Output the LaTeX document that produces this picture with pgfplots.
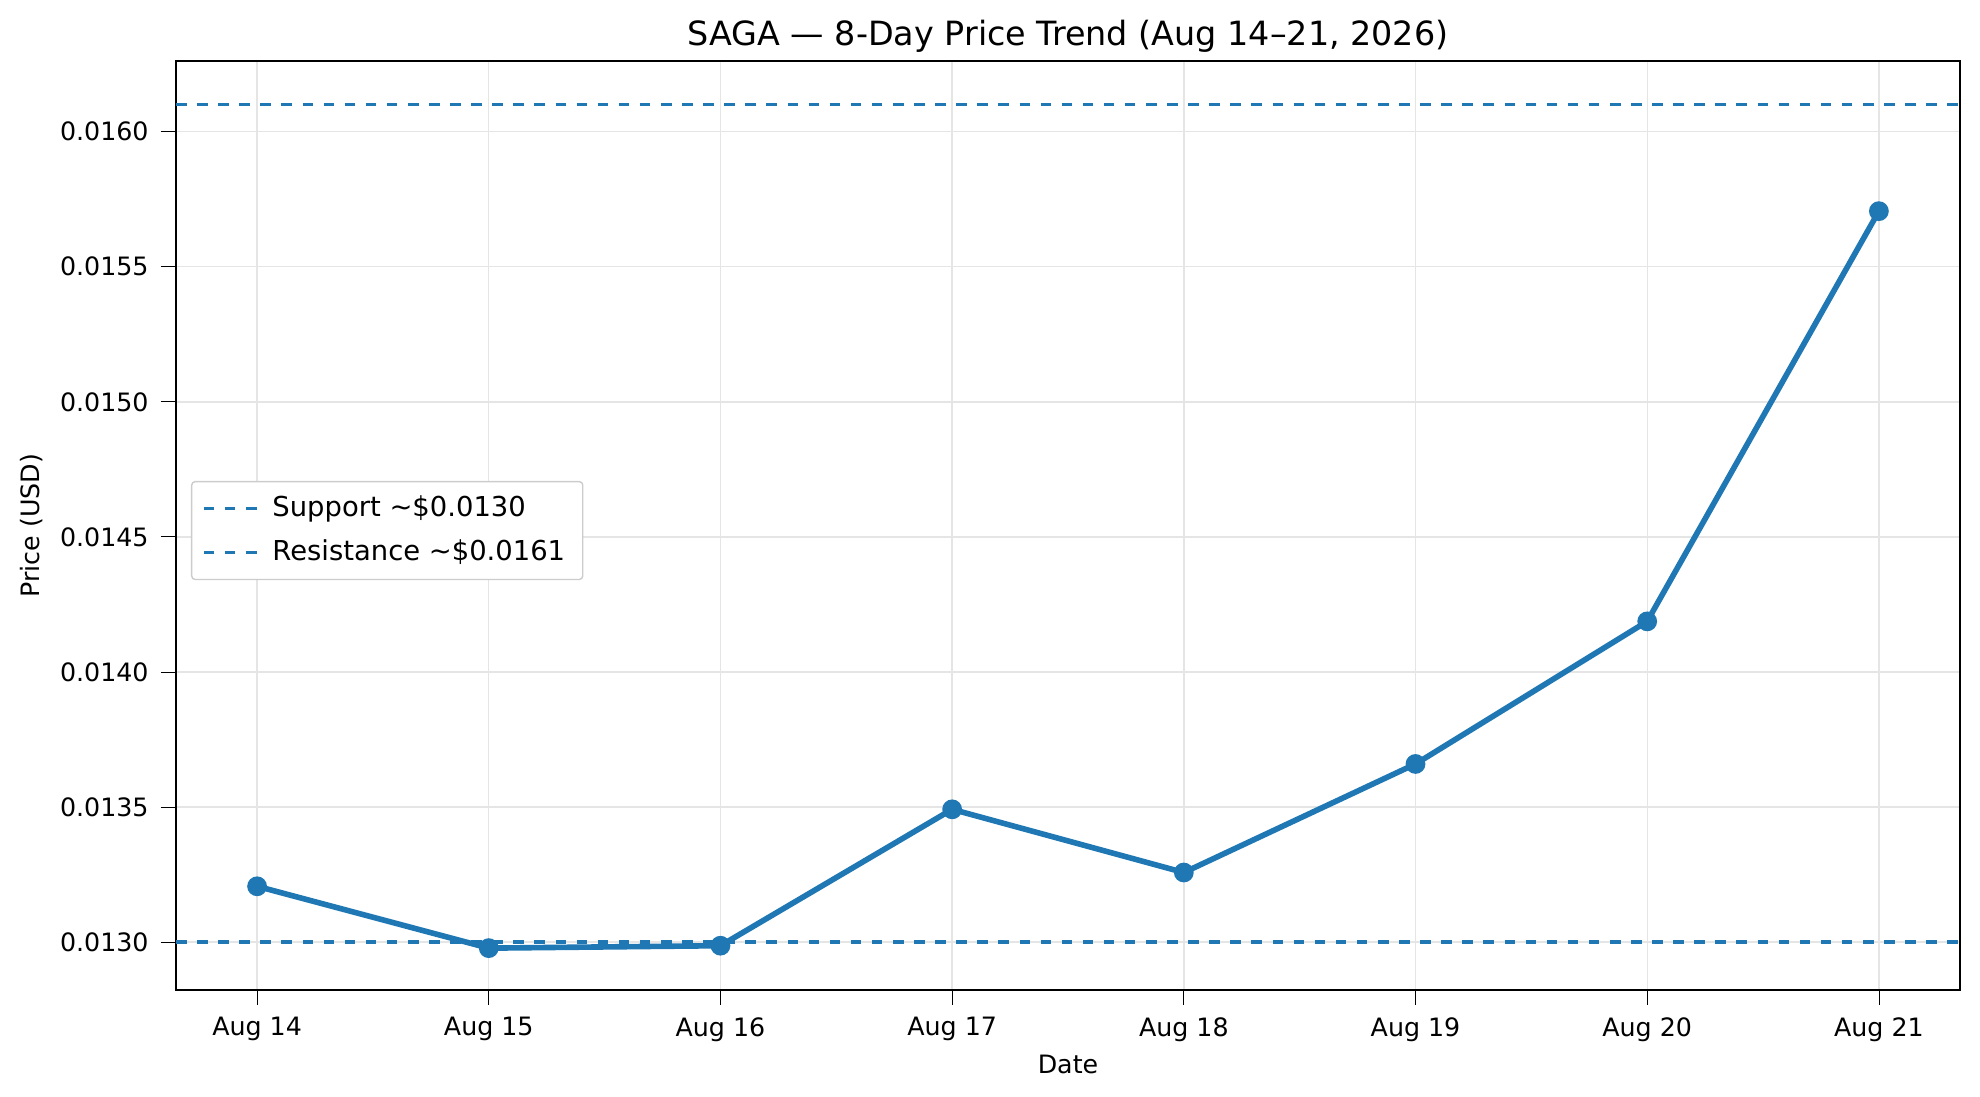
\documentclass[border=0pt]{standalone}
\usepackage{pgfplots}
\pgfplotsset{compat=1.18}
\usepackage{fontspec}
\setmainfont{DejaVu Sans}
\definecolor{mb}{HTML}{1F77B4}
\begin{document}
\begin{tikzpicture}
\path[use as bounding box] (-1.76,-1.07) rectangle (18.04,9.90);
\begin{axis}[at={(0,0)},anchor=south west,scale only axis,width=17.84cm,height=9.29cm,
 xmin=-0.35,xmax=7.35,ymin=0.012822,ymax=0.016262,
 xtick={0,...,7},xticklabels={Aug 14,Aug 15,Aug 16,Aug 17,Aug 18,Aug 19,Aug 20,Aug 21},
 ytick={0.013,0.0135,0.014,0.0145,0.015,0.0155,0.016},
 yticklabel style={/pgf/number format/.cd,fixed,fixed zerofill,precision=4,assume math mode=true},
 scaled y ticks=false,
 tick label style={font=\fontsize{7.2}{8}\selectfont},
 label style={font=\fontsize{7.2}{8}\selectfont},
 xlabel={Date},ylabel={Price (USD)},
 xlabel style={yshift=3pt},ylabel style={yshift=-2pt},
 title={SAGA — 8-Day Price Trend (Aug 14–21, 2026)},
 title style={font=\fontsize{9.5}{11}\selectfont,yshift=-7pt},
 grid=major,grid style={gray!20,line width=0.4pt},
 xtick pos=bottom,ytick pos=left,
 tick align=outside,tick style={black},
 legend style={at={(0.0084,0.548)},anchor=north west,font=\fontsize{7.8}{9}\selectfont,draw=gray!40,rounded corners=1pt,row sep=1pt},
 legend cell align=left]
\addplot[mb,line width=1.6pt,mark=*,mark size=2pt,forget plot] coordinates {(0,0.013206)(1,0.012977)(2,0.012986)(3,0.013491)(4,0.013257)(5,0.013659)(6,0.014187)(7,0.015706)};
\addplot[mb,dashed,line width=0.9pt] coordinates {(-0.35,0.0130)(7.35,0.0130)};
\addlegendentry{Support \textasciitilde\$0.0130}
\addplot[mb,dashed,line width=0.9pt] coordinates {(-0.35,0.0161)(7.35,0.0161)};
\addlegendentry{Resistance \textasciitilde\$0.0161}
\end{axis}
\end{tikzpicture}
\end{document}
